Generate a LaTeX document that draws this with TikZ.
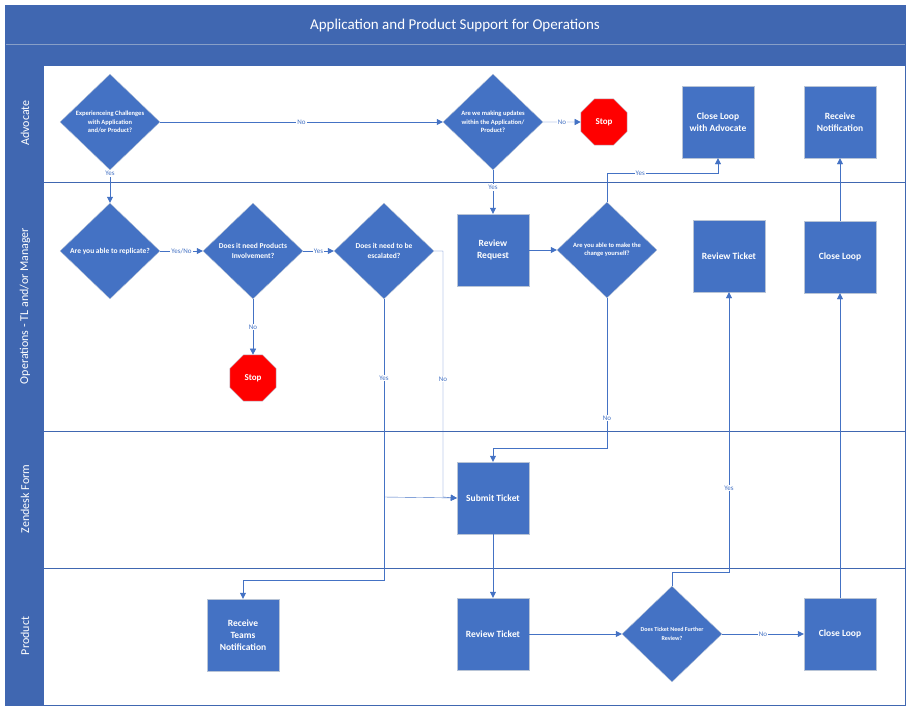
\documentclass[tikz,border=0pt]{standalone}
\usepackage{fontspec}
\setmainfont{Carlito}
\usetikzlibrary{shapes.geometric,arrows.meta}
\definecolor{bluefill}{HTML}{4472C4}
\definecolor{bluebar}{HTML}{4067B1}
\definecolor{edgegray}{HTML}{B8C4D6}
\tikzset{
  task/.style={draw=edgegray,fill=bluefill,minimum width=72pt,minimum height=72pt,inner sep=1pt,text=white,align=center,font=\fontsize{9.5}{12}\selectfont\bfseries},
  decide/.style={diamond,draw=edgegray,fill=bluefill,minimum width=100pt,minimum height=96pt,inner sep=0pt,aspect=1,text=white,align=center,font=\fontsize{6.5}{8.5}\selectfont\bfseries},
  stop/.style={regular polygon,regular polygon sides=8,draw=edgegray,fill=red,minimum size=50pt,inner sep=0pt,text=white,font=\fontsize{9}{11}\selectfont\bfseries},
  flow/.style={draw=bluefill,-{Triangle[length=6pt,width=6pt]}},
  lbl/.style={fill=white,inner sep=1pt,text=bluefill,font=\fontsize{7}{8}\selectfont},
  lane/.style={text=white,font=\fontsize{12}{14}\selectfont,rotate=90}
}
\begin{document}
\begin{tikzpicture}[x=1pt,y=-1pt]
  \useasboundingbox (0,0) rectangle (911,713);
  % lanes and header
  \fill[bluebar] (5,5) rectangle (905,65);
  \draw[edgegray!60!bluebar] (5,44) -- (905,44);
  \fill[bluebar] (5,65) rectangle (44,705);
  \draw[bluebar,thick] (5,5) rectangle (905,705);
  \foreach \y in {65,182,431,568} \draw[bluebar] (5,\y) -- (905,\y);
  \node[text=white,font=\fontsize{15}{18}\selectfont] (title) at (455,25) {Application and Product Support for Operations};
  \node[lane] (lane1) at (25,123) {Advocate};
  \node[lane] (lane2) at (25,306) {Operations - TL and/or Manager};
  \node[lane] (lane3) at (25,499) {Zendesk Form};
  \node[lane] (lane4) at (25,636) {Product};

  % Advocate
  \node[decide] (challenge) at (110,122) {Experienceing Challenges\\with Application\\and/or Product?};
  \node[decide] (updates) at (493,122) {Are we making updates\\within the Application/\\Product?};
  \node[stop] (stopA) at (604,122) {Stop};
  \node[task] (closeadv) at (718,122) {Close Loop\\with Advocate};
  \node[task] (notify) at (840,122) {Receive\\Notification};

  % Operations
  \node[decide,font=\fontsize{7.5}{9}\selectfont\bfseries] (replicate) at (110,251) {Are you able to replicate?};
  \node[decide,font=\fontsize{7.5}{10}\selectfont\bfseries] (involve) at (253,251) {Does it need Products\\Involvement?};
  \node[decide,font=\fontsize{7.5}{10}\selectfont\bfseries] (escalate) at (384,251) {Does it need to be\\escalated?};
  \node[stop] (stopB) at (253,378) {Stop};
  \node[task] (reviewreq) at (493,250) {Review\\Request};
  \node[decide] (change) at (607,250) {Are you able to make the\\change yourself?};
  \node[task] (reviewops) at (729,256) {Review Ticket};
  \node[task] (closeops) at (840,257) {Close Loop};

  % Zendesk
  \node[task] (submit) at (493,498) {Submit Ticket};

  % Product
  \node[task] (teams) at (243,635) {Receive\\Teams\\Notification};
  \node[task] (reviewprod) at (493,634) {Review Ticket};
  \node[decide,font=\fontsize{6}{9}\selectfont\bfseries] (further) at (672,634) {Does Ticket Need Further\\Review?};
  \node[task] (closeprod) at (840,634) {Close Loop};

  % connectors
  \draw[flow] (challenge) -- node[lbl] {No} (updates);
  \draw[flow] (challenge) -- node[lbl,pos=0.1] {Yes} (replicate);
  \draw[flow] (replicate) -- node[lbl] {Yes/No} (involve);
  \draw[flow] (involve) -- node[lbl] {Yes} (escalate);
  \draw[flow] (involve) -- node[lbl] {No} (stopB);
  \draw[flow] (escalate.south) -- node[lbl,pos=0.28] {Yes} (384,580) -| (teams.north);
  \draw[flow] (384,497) -- (submit.west);
  \draw[flow] (escalate.east) -| node[lbl,pos=0.76] {No} (443,497) -- (submit.west);
  \draw[flow] (updates) -- node[lbl] {No} (stopA);
  \draw[flow] (updates) -- node[lbl,pos=0.4] {Yes} (reviewreq);
  \draw[flow] (reviewreq) -- (change);
  \draw[flow] (change.north) |- node[lbl,pos=0.65] {Yes} (718,173) -- (closeadv.south);
  \draw[flow] (change.south) |- node[lbl,pos=0.4] {No} (493,448) -- (submit.north);
  \draw[flow] (submit) -- (reviewprod);
  \draw[flow] (reviewprod) -- (further);
  \draw[flow] (further) -- node[lbl] {No} (closeprod);
  \draw[flow] (further.north) |- (729,572) -- node[lbl,pos=0.3] {Yes} (reviewops.south);
  \draw[flow] (closeprod) -- (closeops);
  \draw[flow] (closeops) -- (notify);
\end{tikzpicture}
\end{document}
